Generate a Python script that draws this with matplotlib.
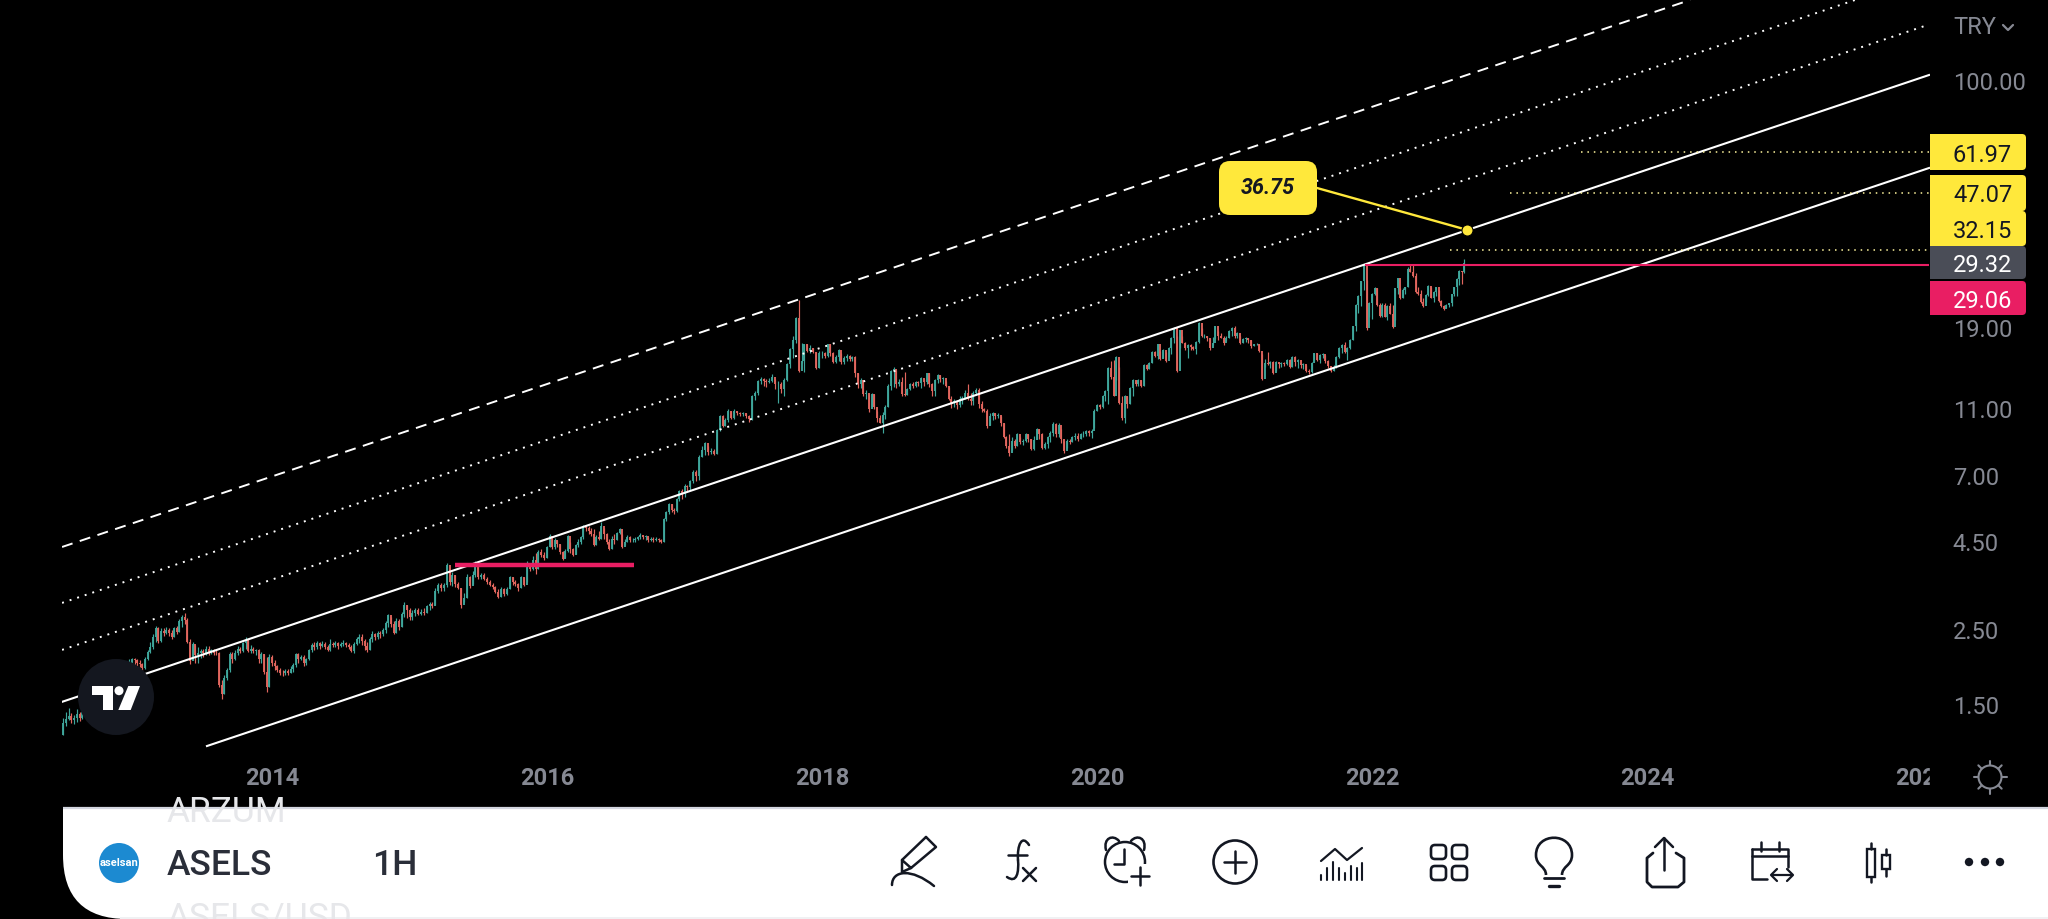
import numpy as np
import matplotlib
matplotlib.use("Agg")
import matplotlib.pyplot as plt
from matplotlib.patches import Circle, FancyBboxPatch, PathPatch, Polygon, Rectangle
from matplotlib.path import Path
from matplotlib.ticker import FixedLocator, FuncFormatter, NullLocator

plt.rcParams['font.family'] = ['Roboto', 'DejaVu Sans']

# weekly candles, (close, high, low), open is the previous close
candles_2012 = [(1.33,1.38,1.23),(1.37,1.44,1.31),(1.40,1.47,1.36),(1.36,1.43,1.33),(1.38,1.41,1.32),(1.42,1.46,1.34),(1.38,1.44,1.35),(1.44,1.50,1.37),
    (1.46,1.50,1.42),(1.50,1.54,1.44),(1.48,1.54,1.45),(1.55,1.58,1.47),(1.60,1.63,1.53),(1.58,1.63,1.54),(1.65,1.68,1.57),(1.70,1.73,1.63),
    (1.68,1.73,1.64),(1.75,1.78,1.66),(1.80,1.84,1.73),(1.85,1.88,1.78),(1.82,1.88,1.79),(1.90,1.93,1.80),(1.95,1.98,1.88),(1.97,2.02,1.92),(2.0,2.05,1.94),(2.05,2.07,1.97)]
candles_2013 = [(2.03,2.07,1.97),(2.0,2.05,1.96),(1.98,2.03,1.94),(1.93,2.0,1.86),(2.05,2.08,1.92),(2.15,2.18,2.03),(2.22,2.3,2.13),(2.38,2.42,2.2),(2.52,2.56,2.3),
    (2.32,2.54,2.28),(2.47,2.52,2.30),(2.45,2.52,2.40),(2.50,2.54,2.43),(2.44,2.52,2.40),(2.38,2.50,2.35),(2.52,2.54,2.38),(2.46,2.56,2.42),(2.64,2.68,2.46),(2.72,2.76,2.55),(2.66,2.80,2.60),
    (2.30,2.70,2.28),(2.02,2.34,1.98),(2.27,2.30,2.03),(2.1,2.25,2.0),(2.14,2.22,2.0),(2.17,2.20,2.06),(2.13,2.2,2.08),(2.2,2.24,2.1),(2.15,2.24,2.1),(2.18,2.2,2.12),(2.14,2.2,2.1),(2.13,2.2,2.1),
    (1.72,2.15,1.7),(1.62,1.78,1.57),(1.80,1.84,1.62),(1.90,1.93,1.78),(2.12,2.15,1.88),(2.05,2.15,2.0),(2.13,2.18,2.03),(2.2,2.24,2.1),(2.17,2.23,2.13),(2.28,2.3,2.15),(2.33,2.38,2.2),
    (2.17,2.34,2.15),(2.2,2.25,2.13),(2.16,2.22,2.13),(2.18,2.2,2.1),(2.05,2.19,2.0),(2.12,2.15,2.0),(1.88,2.12,1.85),(1.70,2.08,1.64),(2.08,2.12,1.7)]
candles_2014 = [(2.0,2.1,1.96),(1.95,2.03,1.9),(1.9,1.97,1.88),(1.87,1.93,1.84),(1.86,1.9,1.83),(1.89,1.92,1.84),(1.87,1.92,1.84),(1.92,1.95,1.86),(1.97,2.0,1.88),(2.12,2.14,1.94),
    (2.05,2.13,2.0),(2.08,2.1,2.03),(2.0,2.1,1.96),(2.05,2.07,1.97),(2.18,2.2,2.03),(2.26,2.28,2.15),(2.22,2.3,2.18),(2.28,2.32,2.2),(2.24,2.3,2.2),(2.27,2.32,2.22),(2.23,2.3,2.2),(2.18,2.26,2.16),
    (2.27,2.34,2.17),(2.25,2.3,2.22),(2.28,2.32,2.22),(2.24,2.3,2.2),(2.27,2.3,2.22),(2.29,2.33,2.24),(2.26,2.3,2.22),(2.22,2.28,2.2),(2.17,2.26,2.15),(2.27,2.3,2.14),(2.34,2.37,2.25),(2.38,2.42,2.28),
    (2.32,2.42,2.25),(2.24,2.34,2.18),(2.18,2.3,2.15),(2.35,2.38,2.18),(2.42,2.47,2.3),(2.38,2.45,2.33),(2.45,2.48,2.35),(2.42,2.48,2.36),(2.5,2.52,2.4),(2.62,2.65,2.45),(2.75,2.78,2.55),
    (2.6,2.72,2.55),(2.45,2.65,2.42),(2.65,2.7,2.45),(2.55,2.68,2.5),(2.78,2.82,2.55),(2.95,3.0,2.72),(2.85,2.95,2.7)]
candles_2015 = [(2.72,2.89,2.67),(2.8,2.85,2.67),(2.85,2.88,2.74),(2.78,2.88,2.75),(2.82,2.87,2.75),(2.8,2.88,2.76),(2.92,2.95,2.8),(2.96,3.0,2.85),(2.93,3.0,2.88),(3.25,3.3,2.95),
    (3.38,3.42,3.2),(3.3,3.42,3.24),(3.38,3.42,3.25),(3.86,3.9,3.32),(3.45,3.75,3.38),(3.6,3.68,3.35),(3.4,3.6,3.32),(3.3,3.45,3.28),(2.95,3.3,2.88),(3.1,3.2,3.0),(3.55,3.62,3.1),(3.35,3.58,3.3),
    (3.6,3.7,3.4),(3.92,3.97,3.55),(3.55,3.9,3.5),(3.6,3.65,3.5),(3.5,3.65,3.48),(3.45,3.55,3.4),(3.38,3.48,3.34),(3.32,3.42,3.28),(3.22,3.36,3.2),(3.12,3.28,3.1),(3.28,3.32,3.12),(3.18,3.3,3.14),
    (3.28,3.32,3.15),(3.55,3.58,3.28),(3.45,3.55,3.38),(3.4,3.48,3.35),(3.3,3.42,3.25),(3.55,3.58,3.3),(3.38,3.55,3.35),(3.85,3.95,3.45),(3.75,3.9,3.7),(4.0,4.1,3.72),(3.75,4.17,3.62),(4.2,4.26,3.75),
    (4.12,4.3,4.08),(4.05,4.2,4.0)]
candles_2016 = [(4.35,4.38,4.05),(4.7,4.75,4.35),(4.35,4.6,4.3),(4.55,4.62,4.3),(4.45,4.55,4.35),(4.2,4.45,4.15),(4.02,4.25,4.0),(4.25,4.3,4.05),(4.7,4.72,4.2),(4.3,4.5,4.18),(4.12,4.32,4.1),
    (4.4,4.45,4.15),(4.5,4.6,4.35),(4.65,4.7,4.45),(5.0,5.05,4.6),(4.95,5.05,4.85),(4.85,5.0,4.75),(4.75,4.95,4.7),(4.4,4.9,4.37),(4.65,4.72,4.4),(4.6,4.85,4.55),(5.0,5.15,4.6),(4.75,4.95,4.6),
    (4.5,4.8,4.45),(4.3,4.6,4.28),(4.6,4.68,4.3),(4.55,4.75,4.45),(4.8,4.83,4.55),(4.9,4.95,4.75),(4.35,4.75,4.32),(4.5,4.58,4.4),(4.65,4.72,4.5),(4.55,4.68,4.5),(4.55,4.62,4.5),(4.6,4.65,4.5),
    (4.65,4.7,4.55),(4.72,4.78,4.6),(4.65,4.72,4.6),(4.68,4.72,4.55),(4.55,4.65,4.5),(4.6,4.65,4.52),(4.55,4.65,4.5),(4.6,4.65,4.52),(4.55,4.63,4.5),(4.5,4.6,4.48),(5.25,5.3,4.5),(5.5,5.55,5.2),
    (5.8,5.85,5.45),(5.6,5.8,5.5),(5.55,5.65,5.45),(6.0,6.05,5.5),(6.35,6.4,5.95),(6.2,6.45,6.0)]
candles_2017 = [(6.55,6.65,6.1),(6.5,6.6,6.3),(6.8,6.85,6.4),(7.2,7.3,6.7),(7.0,7.3,6.8),(8.0,8.1,6.85),(8.35,8.6,8.0),(8.75,8.8,8.1),(8.25,8.6,8.1),(8.3,8.5,8.15),(8.15,8.4,8.1),(9.55,9.65,8.15),
    (10.5,10.6,9.5),(9.85,10.6,9.75),(10.2,10.4,9.8),(10.9,11,10.1),(10.4,10.9,10.3),(10.9,11,10.3),(10.7,10.9,10.6),(10.65,10.8,10.5),(10.7,10.8,10.5),(10.5,10.75,10.4),(10.3,10.6,10.1),(12.0,12.1,10.2),
    (12.3,12.4,11.7),(13.3,13.4,12.1),(13.5,13.7,13.0),(13.3,13.6,12.9),(13.2,13.5,12.8),(13.3,13.6,13.1),(13.7,13.9,13.2),(13.0,13.5,12.6),(13.0,13.3,11.5),(12.6,13.2,12.3),(13.4,13.6,12),(14.9,15,13.3),
    (16.5,16.6,14.5),(17.5,18,15.5),(20.3,20.5,17.2),(14.2,22.9,14.1),(15.2,17.2,15),(17,17.1,14.1),(16.3,17,16.2),(16.6,16.9,16.1),(16.2,16.6,16.0),(14.5,16.2,14.4),(16.0,16.3,14.5)]
candles_2018 = [(16.1,16.3,15.5),(15.7,16.2,15.5),(17,17.1,15.6),(16,17,15.7),(15.1,16.2,15),(15.6,15.8,15),(16.4,16.5,15.2),(15.1,16,14.9),(15.5,15.7,14.9),(15.7,15.9,15.2),(15.4,15.8,15.2),(15.6,15.7,15.2),
    (14,15.7,13.7),(13,14,12.7),(13.4,13.6,12.7),(12.2,13.2,12),(12.3,12.5,11.8),(11,12.2,10.8),(12.2,12.3,11.2),(11.2,12.2,11.0),(10.4,10.9,10.1),(10,10.6,10),(10.6,10.8,9.4),(11.2,11.3,10.3),(12.9,13,11.2),
    (14.2,14.3,12.5),(14.4,14.6,12.8),(13,14.3,12.7),(13.2,13.5,12.9),(12.2,13.7,12),(12.1,14.1,12),(12.6,12.7,12.1),(13,13.1,12.5),(12.9,13.2,12.7),(13.2,13.3,12.8),(13.1,13.3,12.9),(13.6,13.7,12.7),
    (13.2,13.5,12.9),(14,14.05,13),(13,14,12.8),(12.4,13.1,12),(13.4,13.5,12),(13.8,13.9,13.1),(13.5,13.8,13.2),(13.6,13.7,13),(12.9,13.3,12.8),(11.8,12.8,11.7),(11.5,12,11.1),(11.6,11.8,11.2),(11.3,11.6,11)]
candles_2019 = [(11.8,12,11.2),(11.9,12,11.4),(12.3,12.5,11.8),(11.8,13,11.7),(11.6,12.3,11.3),(12.3,12.4,11.3),(12.5,12.7,12.1),(11.4,12.7,11.1),(11,11.6,10.8),(10.9,11.1,10.8),(9.8,11,9.7),(10.5,10.7,9.9),
    (10.7,10.8,10.2),(10.5,10.7,10.3),(10.6,10.7,10.4),(10,10.5,9.8),(9.1,10,9.05),(8.6,9.2,8.5),(8.2,9.3,8.05),(8.9,9.1,8.35),(8.6,9,8.5),(9.3,9.4,8.6),(8.8,9.1,8.7),(8.9,9,8.65),(9.3,9.4,8.8),(9.0,9.3,8.8),
    (8.4,9,8.35),(8.95,9.2,8.35),(9.6,9.7,9.0),(9.3,9.6,9.0),(8.5,9.4,8.4),(8.7,8.8,8.4),(9.1,9.2,8.5),(9.4,9.5,8.8),(9.95,10.1,9.2),(9.3,10.0,9.1),(9.9,10,9.1),(9,9.6,8.75),(8.3,8.9,8.2),(8.9,9,8.5),
    (8.85,9,8.7),(9.1,9.2,8.8),(9.2,9.35,8.95),(9,9.4,8.9),(9.3,9.4,9),(9.3,9.5,9.1),(9.5,9.55,9.2),(9.4,9.55,9.2),(9.5,9.6,9.05),(10.9,11,9.7)]
candles_2020 = [(11.3,11.4,10.9),(11.2,11.4,11),(12.0,12.1,11.1),(12.4,12.5,11.6),(14.5,14.6,11.4),(13.7,15.2,13.5),(12,15.3,12),(15.6,15.7,13.4),(11.5,14.6,11.4),(10.4,12,10.2),(12,12.1,10),(11.4,12,11.1),
    (12.7,12.8,11.4),(13.4,13.5,12),(13,13.4,12.9),(13.4,13.5,12.9),(12.9,13.4,12.8),(14.8,14.9,12.9),(14.4,14.9,14.3),(15,15.1,14.4),(16.2,16.3,15),(15.7,16.3,15.6),(17,17.1,15.4),(15.4,16.3,15.3),
    (16.4,16.5,15.5),(15.2,16.2,15.1),(16.6,16.7,15.6),(17.8,17.9,15.9),(19,19.1,17.2),(14.2,18,14.1),(18.7,18.8,16.6),(17.2,18,17.2),(16.6,17.3,16.4),(16.9,17,15.5),(16.7,17,16.4),(16.5,16.8,16.4),
    (17.3,17.4,15.9),(19.7,19.8,17.2),(18,19,17.9),(18,18.2,17.7),(17.8,18,17.4),(16.6,17.8,16.4),(17.2,17.9,16.9),(19.2,19.3,17.6),(18,18.6,17.5),(17.8,18.4,17.7),(17.2,18,16.9),(17.8,18,17.4),(18.6,18.7,17.8),(19,19.1,18.0)]
candles_2021 = [(18,19.2,17.8),(18.4,18.5,17.8),(17.2,18,17),(17.6,17.8,17.2),(17.8,17.9,17.3),(17.5,17.8,17.2),(16.8,17.5,16.6),(17.0,17.1,16.8),(17.1,17.2,16.9),(16.3,17,16.2),(13.5,15.9,13.4),(15,15.4,14.6),
    (14.9,16.2,14.8),(15.1,15.2,14.5),(14,15.2,13.9),(15.1,15.2,14.2),(14.9,15.1,14.5),(15,15.1,14.6),(14.9,15.1,14.7),(15.3,15.4,14.8),(14.6,15.4,14.5),(15.6,15.7,14.6),(15.1,15.7,14.7),(15.3,15.4,14.5),
    (14.8,15,14.5),(14.9,15,14.4),(14.2,14.8,14.1),(14.1,14.4,13.9),(15,15.1,14),(16.0,16.1,15.1),(15.3,16,15.2),(15.8,15.9,15),(15.9,16,15.5),(15.2,15.8,15),(14.7,15.3,14.5),(14.2,14.7,14.1),(14.6,14.8,14.2),
    (15.6,15.7,14.5),(16.6,16.7,15.5),(16.9,17,16),(16.2,17.3,16.1),(16.6,16.7,15.3),(17.5,17.6,16.5),(19.2,19.3,17.5),(22.2,22.3,18.6),(23.5,23.7,21),(26,26.1,22),(29,29.1,24.5),(19,26.2,18.7),(22.4,22.6,20.4)]
candles_2022 = [(23.9,24,20.2),(24.9,25,23.7),(22.2,24.9,22),(20.6,22.5,20.4),(22.2,22.4,20.4),(20.5,22.4,20.4),(22,22.1,20),(20.9,22.4,20.8),(19.1,22.1,19),(24.8,24.9,20),(26.5,26.6,23.9),(23.2,24.8,23.1),
    (24.6,24.8,23.2),(25,25.1,23.9),(28.2,28.6,25.1),(27.7,29,27.6),(26.9,29.2,26.8),(24.2,27.4,24.1),(23.8,25,23.7),(22.6,24.6,22.5),(22,23.2,21.9),(23.7,23.8,22.6),(25.2,25.3,23.6),(23.3,25.1,23.2),
    (24.2,24.3,22.6),(25,25.1,23.6),(22.8,24.5,22.6),(22,23,21.8),(21.6,22.2,21.5),(22.2,22.3,21.7),(22.4,22.5,21.8),(23.8,23.9,22),(25,25.1,23.6),(26.4,26.5,23.6),(27.9,28,25.4),(27.6,27.8,25.6),(29.32,30.3,27.4)]

candle_years = [candles_2012, candles_2013, candles_2014, candles_2015, candles_2016, candles_2017,
                candles_2018, candles_2019, candles_2020, candles_2021, candles_2022]
year_edges = [2012.48, 2013, 2014, 2015, 2016, 2017, 2018, 2019, 2020, 2021, 2022, 2022.69]

# drawn channel lines, (year, price) at both ends
lower_line = ([2013.527, 2026.051], [1.142, 55.7])
upper_line = ([2012.473, 2026.051], [1.537, 104.1])
dotted_a = ([2012.473, 2026.04], [2.18, 145.7])
dotted_b = ([2012.473, 2025.513], [2.99, 172.4])
dashed_top = ([2012.473, 2024.313], [4.355, 172.4])

level_prices = [61.97, 47.07, 32.15]
level_starts = [2023.52, 2023.0, 2022.57]
resistance_old = ([2015.33, 2016.63], [3.86, 3.86])
resistance_new = ([2021.95, 2026.05], [29.06, 29.06])
callout_year = 2022.69
callout_price = 36.75

y_ticks = [100, 19, 11, 7, 4.5, 2.5, 1.5]
x_ticks = [2014, 2016, 2018, 2020, 2022, 2024, 2026]
price_tags = ['61.97', '47.07', '32.15', '29.32', '29.06']

GREY = '#868993'
INK = '#131722'
YELLOW = '#ffe83b'
PINK = '#e91e63'
UP = '#3fa79c'
DOWN = '#e2665e'

W, H = 2048, 919
fig = plt.figure(figsize=(W / 100, H / 100), dpi=100, facecolor='black')
ax = fig.add_axes([62 / W, 1 - 752 / H, 1868 / W, 752 / H], facecolor='black')
ax.set_yscale('log')
ax.set_xlim(2012.4727, 2026.058)
ax.set_ylim(1.097, 172.4)
for s in ax.spines.values():
    s.set_visible(False)

xs, opens, closes, highs, lows = [], [], [], [], []
prev = None
for i, rows in enumerate(candle_years):
    for x, (c, h, l) in zip(np.linspace(year_edges[i], year_edges[i + 1], len(rows), endpoint=False), rows):
        xs.append(x)
        opens.append(prev if prev is not None else l)
        closes.append(c)
        highs.append(h)
        lows.append(l)
        prev = c
opens, closes = np.array(opens), np.array(closes)
colors = np.where(closes >= opens, UP, DOWN)
ax.vlines(xs, lows, highs, colors=colors, lw=0.85, zorder=2)
ax.vlines(xs, opens, closes, colors=colors, lw=1.35, zorder=2)

ax.plot(*lower_line, color='white', lw=1.5, zorder=3)
ax.plot(*upper_line, color='white', lw=1.5, zorder=3)
ax.plot(*dotted_a, color='white', lw=1.4, ls=(0, (1, 3.1)), zorder=3)
ax.plot(*dotted_b, color='white', lw=1.4, ls=(0, (1, 3.1)), zorder=3)
ax.plot(*dashed_top, color='white', lw=1.4, ls=(0, (5.7, 3.9)), zorder=3)
for price, start in zip(level_prices, level_starts):
    ax.plot([start, 2026.05], [price, price], color='#fff59d', lw=1.1, ls=(0, (1, 3.2)), zorder=3)
ax.plot(*resistance_old, color=PINK, lw=3.2, solid_capstyle='butt', zorder=4)
ax.plot(*resistance_new, color=PINK, lw=1.5, solid_capstyle='butt', zorder=4)

ax.yaxis.tick_right()
ax.yaxis.set_major_locator(FixedLocator(y_ticks))
ax.yaxis.set_minor_locator(NullLocator())
ax.yaxis.set_major_formatter(FuncFormatter(lambda v, p: '%.2f' % v))
ax.xaxis.set_major_locator(FixedLocator(x_ticks))
ax.tick_params(axis='y', length=0, labelsize=17, labelcolor=GREY, pad=16.5)
ax.tick_params(axis='x', length=0, labelsize=17, labelcolor=GREY, pad=11)
for lab in ax.get_xticklabels():
    lab.set_fontweight('bold')

# everything of the app around the chart, in screen pixels
ui = fig.add_axes([0, 0, 1, 1])
ui.set_xlim(0, W)
ui.set_ylim(H, 0)
ui.axis('off')
ui.set_autoscale_on(False)

ui.add_patch(Rectangle((1930, 752), 118, 54, color='black', zorder=1))


def line(xv, yv, lw=1.8, color=INK, z=6):
    ui.plot(xv, yv, color=color, lw=lw, solid_capstyle='round', solid_joinstyle='round', zorder=z)


def curve(pts, lw=1.8, color=INK, z=6):
    codes = [Path.MOVETO] + [Path.CURVE4] * (len(pts) - 1)
    ui.add_patch(PathPatch(Path(pts, codes), fill=False, ec=color, lw=lw, capstyle='round', zorder=z))


def tag(y0, y1, text, face, ink):
    ui.add_patch(FancyBboxPatch((1930, y0), 96, y1 - y0, boxstyle='round,pad=0,rounding_size=4', fc=face, ec='none', zorder=3))
    ui.add_patch(Rectangle((1930, y0), 10, y1 - y0, fc=face, ec='none', zorder=3))
    ui.text(1953, (y0 + y1) / 2 + 0.5, text, color=ink, fontsize=17, va='center_baseline', ha='left', zorder=4)


tag(134, 170, price_tags[0], YELLOW, INK)
tag(175, 211, price_tags[1], YELLOW, INK)
tag(211, 246, price_tags[2], YELLOW, INK)
tag(246, 279, price_tags[3], '#4a4d57', 'white')
tag(281, 315, price_tags[4], PINK, 'white')

ui.text(1953, 27, 'TRY', color=GREY, fontsize=17, va='center', ha='left')
line([2003, 2008, 2013], [25, 30, 25], lw=1.6, color=GREY)

# callout
ax.annotate('', xy=(callout_year, callout_price), xytext=(1317, 188), xycoords='data', textcoords=ui.transData,
            arrowprops=dict(arrowstyle='-', color=YELLOW, lw=1.7, shrinkA=0, shrinkB=0), zorder=5)
ax.plot([callout_year], [callout_price], 'o', color=YELLOW, ms=8, mec='black', mew=0.8, zorder=6)
ui.add_patch(FancyBboxPatch((1219, 161), 98, 54, boxstyle='round,pad=0,rounding_size=11', fc=YELLOW, ec='none', zorder=3))
ui.text(1268, 188, '%.2f' % callout_price, color=INK, fontsize=15.5, fontweight='bold', fontstyle='italic', ha='center', va='center', zorder=4)

# tradingview badge
ui.add_patch(Circle((116, 697), 38, fc='#14171f', ec='none', zorder=3))
ui.add_patch(Polygon([(91.7, 686), (113.3, 686), (113.3, 710), (102.7, 710), (102.7, 695), (91.7, 695)], fc='white', ec='none', zorder=4))
ui.add_patch(Circle((119, 690.7), 4.5, fc='white', ec='none', zorder=4))
ui.add_patch(Polygon([(128.3, 686), (140, 686), (130.7, 710), (118.3, 710)], fc='white', ec='none', zorder=4))

# sun button
ui.add_patch(Circle((1990, 777), 11.5, fc='none', ec=GREY, lw=1.5, zorder=3))
for a in np.arange(0, 360, 45):
    ca, sa = np.cos(np.radians(a)), np.sin(np.radians(a))
    line([1990 + 12 * ca, 1990 + 16.5 * ca], [777 + 12 * sa, 777 + 16.5 * sa], lw=1.5, color=GREY, z=3)

# bottom panel
panel_path = Path([(63, 807), (W, 807), (W, H), (127, H), (63, H), (63, 855), (63, 807)],
                  [Path.MOVETO, Path.LINETO, Path.LINETO, Path.LINETO, Path.CURVE3, Path.CURVE3, Path.CLOSEPOLY])
panel = PathPatch(panel_path, fc='white', ec='none', zorder=4)
ui.add_patch(panel)
ui.plot([63, W], [807.5, 807.5], color='#d3d6df', lw=1.6, zorder=5, solid_capstyle='butt')
ui.add_patch(Rectangle((120, 916.5), W - 120, 3, fc='#f0f1f3', ec='none', zorder=5))

for txt, yb in (('ARZUM', 822), ('ASELS/USD', 928)):
    t = ui.text(167, yb, txt, color='#e6e7ea', fontsize=25.5, va='baseline', ha='left', zorder=5)
    t.set_clip_path(panel)
ui.text(167, 875, 'ASELS', color='#2a2e39', fontsize=25.5, fontweight='medium', va='baseline', ha='left', zorder=6)
ui.text(372, 875, '1H', color='#2a2e39', fontsize=25.5, fontweight='medium', va='baseline', ha='left', zorder=6)
ui.add_patch(Circle((119, 863), 20, fc='#1c8ad1', ec='none', zorder=6))
ui.text(119, 863, 'aselsan', color='white', fontsize=8, fontweight='bold', ha='center', va='center', zorder=7)

# pencil
line([926, 936, 911, 902, 902, 911], [837, 847, 868, 860, 872, 868])
line([926, 902], [837, 860])
curve([(892, 885), (892, 870), (912, 868), (934, 886)])
# fx
curve([(1029, 845), (1022, 834), (1017, 845), (1018, 860)])
curve([(1018, 860), (1019, 872), (1017, 884), (1007, 877)])
line([1008, 1027], [855, 855])
line([1023, 1036], [868, 881])
line([1036, 1023], [868, 881])
# alarm
ui.add_patch(Circle((1125, 862), 20, fc='none', ec=INK, lw=1.8, zorder=6))
curve([(1106, 850), (1103, 838), (1113, 834), (1119, 841)])
curve([(1144, 850), (1147, 838), (1137, 834), (1131, 841)])
line([1124, 1124, 1114], [849, 864, 864])
ui.add_patch(Rectangle((1128, 864), 22, 24, fc='white', ec='none', zorder=7))
line([1131, 1149], [876, 876], z=8)
line([1140, 1140], [867, 885], z=8)
# plus
ui.add_patch(Circle((1235, 862), 21.5, fc='none', ec=INK, lw=1.9, zorder=6))
line([1224, 1246], [862, 862])
line([1235, 1235], [851, 873])
# indicators
line([1321, 1335, 1347, 1362], [861, 849, 860, 848], lw=1.6)
for bx, by in zip([1321, 1327, 1333, 1339, 1345, 1351, 1357, 1362], [875, 868, 862, 868, 873, 866, 868, 863]):
    line([bx, bx], [by, 880], lw=1.5)
# grid
for gx in (1431, 1452):
    for gy in (845, 866):
        ui.add_patch(FancyBboxPatch((gx, gy), 15, 14, boxstyle='round,pad=0,rounding_size=4', fc='none', ec=INK, lw=1.9, zorder=6))
# bulb
ui.add_patch(PathPatch(Path([(1546, 875), (1546, 866), (1536, 866), (1536, 855), (1536, 832), (1572, 832), (1572, 855), (1572, 866), (1562, 866), (1562, 875)],
                            [Path.MOVETO] + [Path.CURVE4] * 9), fill=False, ec=INK, lw=1.9, zorder=6))
line([1544, 1564], [878, 878], lw=2.0)
line([1549, 1559], [886, 886], lw=2.4)
# share
line([1653, 1647, 1647, 1652, 1678, 1684, 1684, 1676], [853, 858, 882, 887, 887, 882, 858, 853], lw=2.0)
line([1664, 1664], [838, 870])
line([1655, 1664, 1673], [847, 838, 847])
# calendar
line([1767, 1752, 1752], [879, 879, 849])
line([1752, 1788, 1788], [849, 849, 867])
line([1752, 1788], [856, 856])
line([1761, 1761], [842, 851])
line([1779, 1779], [842, 851])
line([1772, 1792], [875, 875], lw=1.6)
line([1777, 1771, 1777], [869, 875, 881], lw=1.6)
line([1787, 1793, 1787], [869, 875, 881], lw=1.6)
# candle button
line([1871, 1871], [843, 849])
line([1871, 1871], [877, 882])
ui.add_patch(Rectangle((1867, 849), 8, 28, fc='none', ec=INK, lw=1.7, zorder=6))
line([1886, 1886], [849, 855])
line([1886, 1886], [869, 876])
ui.add_patch(Rectangle((1882, 855), 8, 14, fc='none', ec=INK, lw=1.7, zorder=6))
# more
for dx in (1969, 1985, 2000):
    ui.add_patch(Circle((dx, 862), 4.2, fc=INK, ec='none', zorder=6))

fig.savefig('out.png', dpi=100, facecolor='black')
